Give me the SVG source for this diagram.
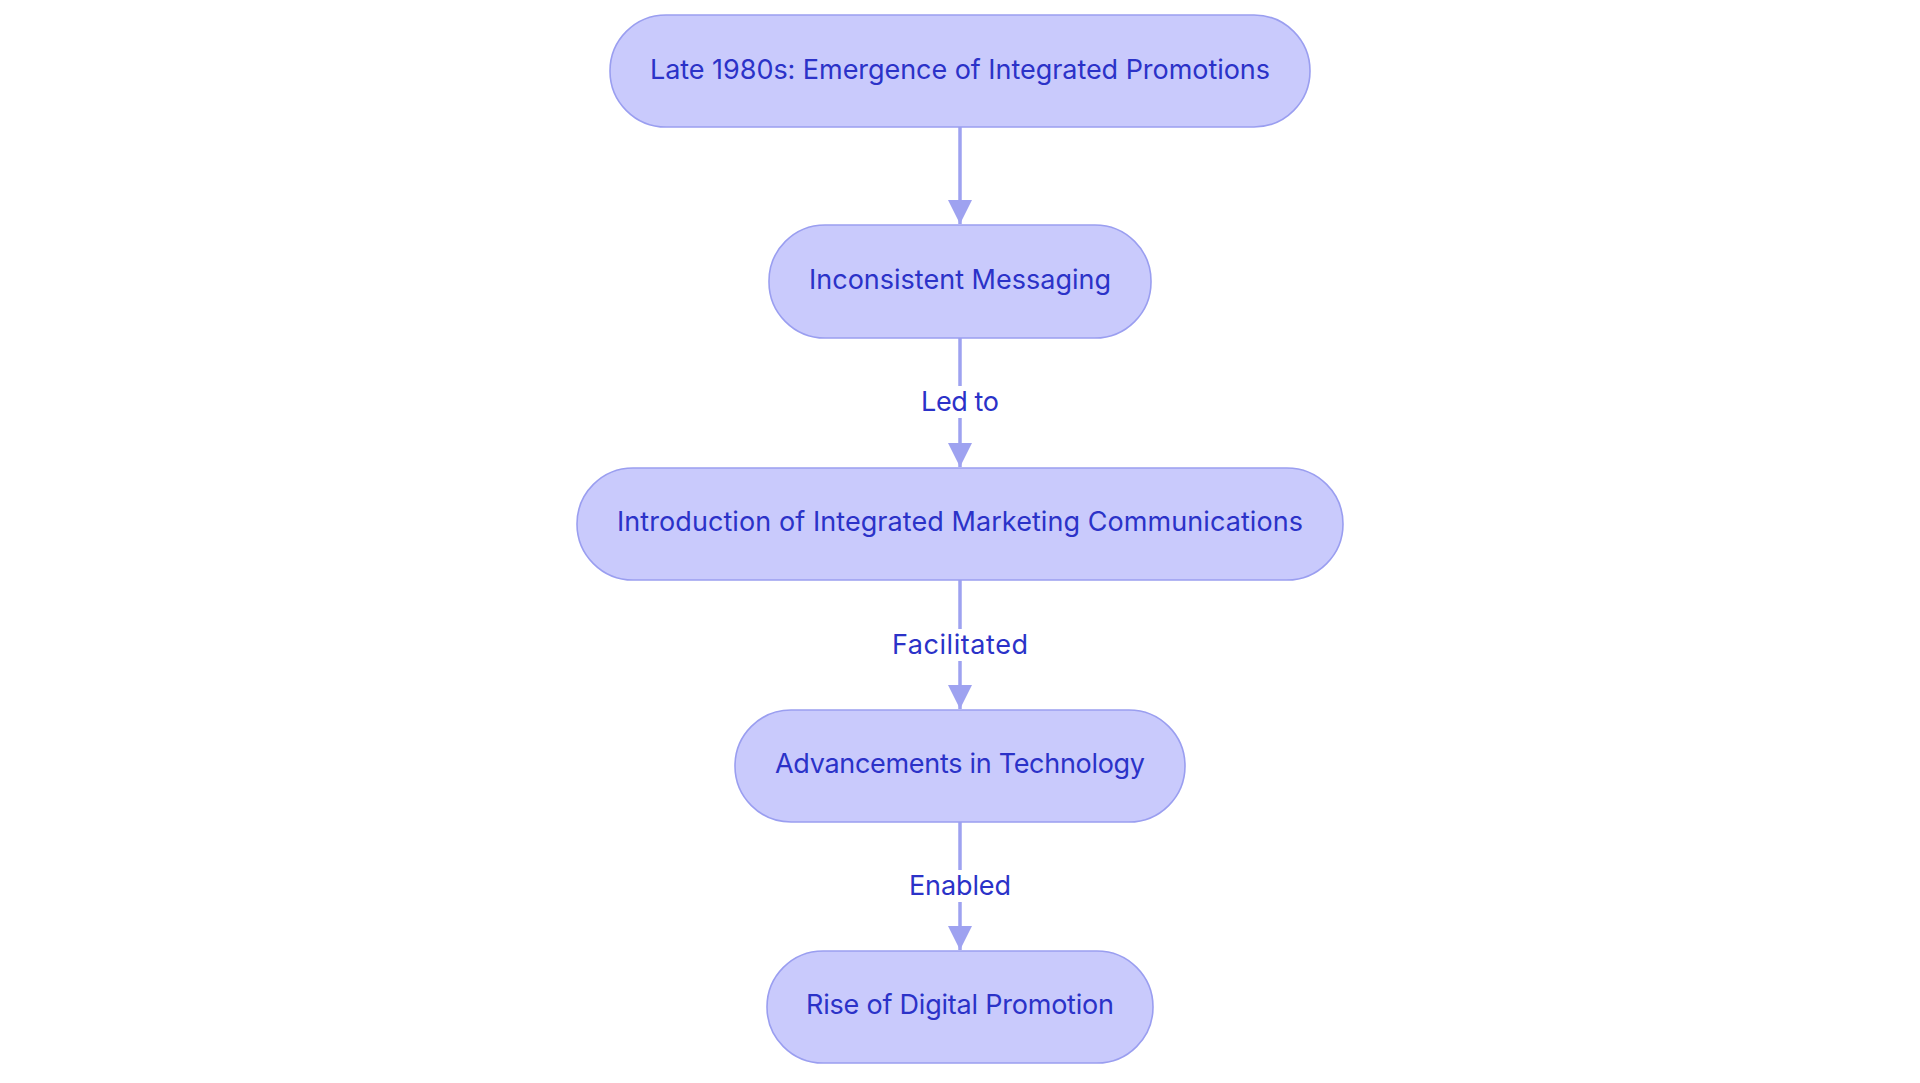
<svg xmlns="http://www.w3.org/2000/svg" width="1920" height="1083" viewBox="0 0 1920 1083">
<defs>
<style>
.node rect{fill:#c9cafc;stroke:#9a9ef0;stroke-width:1.6}
.node text,.elabel text{font-family:"Inter","Noto Sans","Liberation Sans",sans-serif;font-size:27px;fill:#2b32c8;text-anchor:middle}
.edge{stroke:#9ea2f0;stroke-width:3.5;fill:none}
.elabel rect{fill:#ffffff}
</style>
<marker id="arrow" viewBox="0 0 12 12" refX="12" refY="6" markerWidth="7" markerHeight="7" markerUnits="strokeWidth" orient="auto">
<path d="M0,0 L12,6 L0,12 z" fill="#9ea2f0"/>
</marker>
</defs>
<rect width="1920" height="1083" fill="#ffffff"/>
<g id="connectors">
<line class="edge" x1="960" y1="127" x2="960" y2="224" marker-end="url(#arrow)"/>
<line class="edge" x1="960" y1="338" x2="960" y2="467" marker-end="url(#arrow)"/>
<line class="edge" x1="960" y1="580" x2="960" y2="709" marker-end="url(#arrow)"/>
<line class="edge" x1="960" y1="822" x2="960" y2="950" marker-end="url(#arrow)"/>
<g class="elabel" id="label-led-to"><rect x="916" y="386" width="88" height="32"/><text x="960" y="411" textLength="78">Led to</text></g>
<g class="elabel" id="label-facilitated"><rect x="888" y="629" width="144" height="32"/><text x="960" y="654" textLength="136">Facilitated</text></g>
<g class="elabel" id="label-enabled"><rect x="904" y="870" width="112" height="32"/><text x="960" y="895" textLength="102">Enabled</text></g>
</g>
<g class="node" id="node-late-1980s"><rect x="610" y="15" width="700" height="112" rx="56"/><text x="960" y="79" textLength="620">Late 1980s: Emergence of Integrated Promotions</text></g>
<g class="node" id="node-inconsistent"><rect x="769" y="225" width="382" height="113" rx="56"/><text x="960" y="289" textLength="302">Inconsistent Messaging</text></g>
<g class="node" id="node-imc"><rect x="577" y="468" width="766" height="112" rx="56"/><text x="960" y="531" textLength="686">Introduction of Integrated Marketing Communications</text></g>
<g class="node" id="node-tech"><rect x="735" y="710" width="450" height="112" rx="56"/><text x="960" y="773" textLength="370">Advancements in Technology</text></g>
<g class="node" id="node-digital"><rect x="767" y="951" width="386" height="112" rx="56"/><text x="960" y="1014" textLength="308">Rise of Digital Promotion</text></g>
</svg>
